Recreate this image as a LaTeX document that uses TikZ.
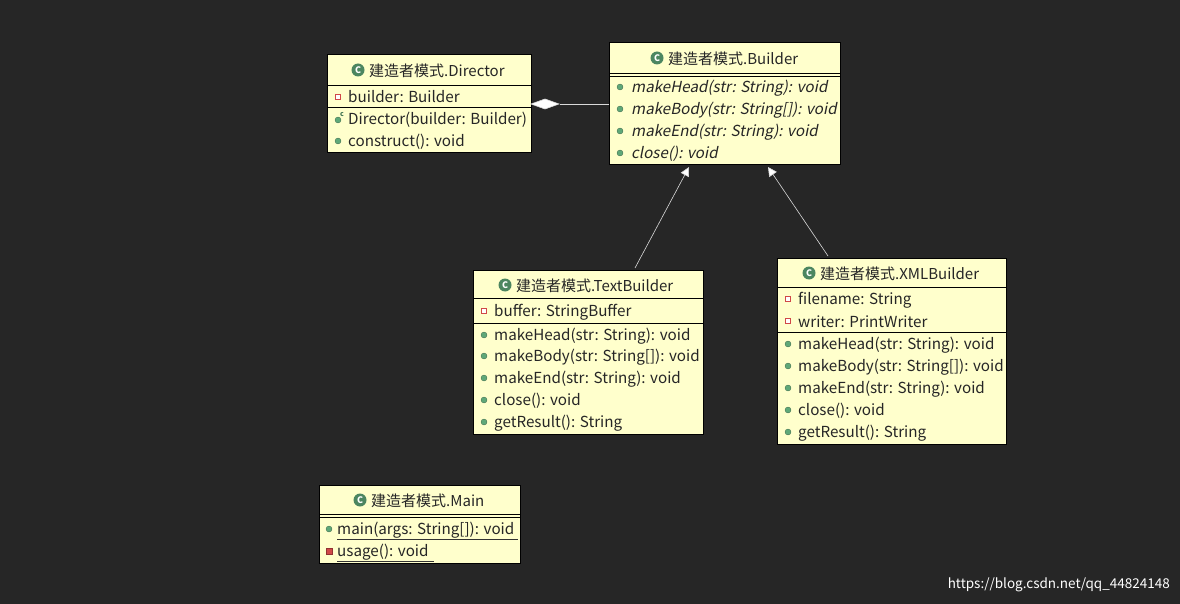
\documentclass[tikz,border=0pt]{standalone}
\usepackage{fontspec}
\setmainfont[AutoFakeSlant=0.2]{Noto Sans CJK SC}
\usetikzlibrary{arrows.meta,calc}
\definecolor{bg}{HTML}{262626}
\definecolor{box}{HTML}{FFFFCC}
\definecolor{pub}{HTML}{5FA878}
\definecolor{priv}{HTML}{D04848}
\tikzset{
 cls/.style={draw=black,fill=box,line width=1pt},
 txt/.style={anchor=west,inner sep=0,font=\fontsize{15.2}{15}\selectfont,text=black!85},
 itxt/.style={txt,font=\fontsize{15.2}{15}\selectfont\itshape},
 ttl/.style={inner sep=0,font=\fontsize{15}{15}\selectfont,text=black!85},
 gen/.style={draw=white!85!black,line width=0.6pt,-{Triangle[open,length=9pt,width=9pt,fill=white]}}
}
\newcommand{\pubdot}[2]{\fill[pub,draw=pub!60!black,line width=0.3pt] (#1,#2) circle (3);}
\newcommand{\privsq}[2]{\draw[priv,fill=white,line width=0.8pt] ($(#1,#2)+(-2.5,-2.5)$) rectangle ($(#1,#2)+(2.5,2.5)$);}
\newcommand{\privfill}[2]{\draw[priv!70!black,fill=priv,line width=0.5pt] ($(#1,#2)+(-3,-3)$) rectangle ($(#1,#2)+(3,3)$);}
\newcommand{\clsicon}[2]{\fill[pub!80!black] (#1,#2) circle (6.5);\node[text=white,inner sep=0,font=\fontsize{9}{9}\selectfont\bfseries] at (#1,#2) {C};}
\begin{document}
\begin{tikzpicture}[x=1pt,y=-1pt]
\fill[bg] (0,0) rectangle (1180,604);
\useasboundingbox (0,0) rectangle (1180,604);
% Director
\draw[cls] (327,55) rectangle (531,153);
\node[coordinate] (dir) at (531,104) {};
\draw[line width=0.8pt] (327,85) -- (531,85) (327,107) -- (531,107);
\clsicon{358}{70}
\node[ttl,anchor=west] (dirT) at (369,71) {建造者模式.Director};
\privsq{338}{97}\node[txt] (d1) at (348,97) {builder: Builder};
\pubdot{338}{120}\node[font=\fontsize{7}{7}\selectfont\bfseries,text=pub!70!black,inner sep=0] at (342,115) {c};
\node[txt] (d2) at (348,120) {Director(builder: Builder)};
\pubdot{338}{141}\node[txt] (d3) at (348,142) {construct(): void};
% Builder
\draw[cls] (609,43) rectangle (840,165);
\draw[line width=0.8pt] (609,73) -- (840,73) (609,76) -- (840,76);
\node[coordinate] (bl) at (609,104) {};
\clsicon{657}{58}
\node[ttl,anchor=west] (bT) at (668,59) {建造者模式.Builder};
\foreach \y/\t in {87/{makeHead(str: String): void},109/{makeBody(str: String[]): void},131/{makeEnd(str: String): void},153/{close(): void}}{
 \pubdot{620}{\y}\node[itxt] at (631,\y+1) {\t};}
% TextBuilder
\draw[cls] (473,270) rectangle (703,434);
\draw[line width=0.8pt] (473,298) -- (703,298) (473,323) -- (703,323);
\clsicon{505}{285}
\node[ttl,anchor=west] (tT) at (516,286) {建造者模式.TextBuilder};
\privsq{484}{311}\node[txt] at (494,312) {buffer: StringBuffer};
\foreach \y/\t in {335/{makeHead(str: String): void},356/{makeBody(str: String[]): void},378/{makeEnd(str: String): void},400/{close(): void},422/{getResult(): String}}{
 \pubdot{484}{\y}\node[txt] at (494,\y+1) {\t};}
% XMLBuilder
\draw[cls] (777,258) rectangle (1006,444);
\draw[line width=0.8pt] (777,287) -- (1006,287) (777,332) -- (1006,332);
\clsicon{809}{273}
\node[ttl,anchor=west] (xT) at (820,274) {建造者模式.XMLBuilder};
\privsq{788}{299}\node[txt] at (798,300) {filename: String};
\privsq{788}{321}\node[txt] at (798,322) {writer: PrintWriter};
\foreach \y/\t in {344/{makeHead(str: String): void},366/{makeBody(str: String[]): void},388/{makeEnd(str: String): void},410/{close(): void},432/{getResult(): String}}{
 \pubdot{788}{\y}\node[txt] at (798,\y+1) {\t};}
% Main
\draw[cls] (319,485) rectangle (520,563);
\draw[line width=0.8pt] (319,514) -- (520,514) (319,517) -- (520,517);
\clsicon{360}{500}
\node[ttl,anchor=west] (mT) at (371,501) {建造者模式.Main};
\pubdot{329}{529}\node[txt] (m1) at (337,530) {main(args: String[]): void};
\draw[black!80,line width=0.6pt] (337,539) -- (518,539);
\privfill{329}{551}\node[txt] (m2) at (337,552) {usage(): void};
\draw[black!80,line width=0.6pt] (337,561) -- (434,561);
% connectors
\node[coordinate] (tb) at (635,268) {};
\node[coordinate] (tbh) at (689,167) {};
\node[coordinate] (xb) at (828,256) {};
\node[coordinate] (xbh) at (768,167) {};
\draw[gen] (tb) -- (tbh);
\draw[gen] (xb) -- (xbh);
\draw[draw=white!85!black,line width=0.6pt] (bl) -- (560,104);
\draw[draw=white!85!black,fill=white,line width=0.6pt] (dir) -- ++(14,-5) -- ++(14,5) -- ++(-14,5) -- cycle;
\node[anchor=east,inner sep=0,text=white,font=\fontsize{13.5}{13}\selectfont] (wm) at (1170,585) {https://blog.csdn.net/qq\_44824148};
\end{tikzpicture}
\end{document}
